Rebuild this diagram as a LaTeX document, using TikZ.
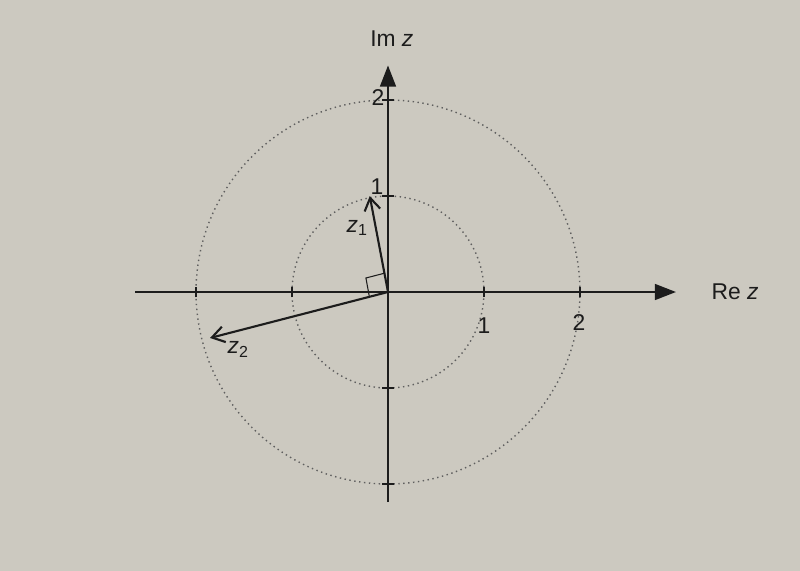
\documentclass[tikz,border=0pt]{standalone}
\usepackage{fontspec}
\setmainfont{Liberation Sans}
\usetikzlibrary{arrows.meta}
\definecolor{paper}{RGB}{204,201,192}
\definecolor{ink}{RGB}{28,28,28}
\definecolor{dotc}{RGB}{95,95,95}
\begin{document}
\begin{tikzpicture}[x=1.92cm,y=1.92cm,
  axis/.style={draw=ink,line width=1.2pt,-{Triangle[length=12pt,width=9pt]}},
  circ/.style={draw=dotc,line width=0.8pt,dotted},
  tick/.style={draw=ink,line width=1pt},
  vec/.style={draw=ink,line width=1.2pt,-{Straight Barb[length=7pt,width=9pt]}},
  lbl/.style={font=\fontsize{13}{15}\selectfont,text=ink,inner sep=0pt}]
\fill[paper] (-4.042,-2.906) rectangle (4.292,3.042);
\useasboundingbox (-4.042,-2.906) rectangle (4.292,3.042);
\coordinate (O) at (0,0);
\coordinate (xs) at (-2.635,0);
\coordinate (xe) at (3.0,0);
\coordinate (ys) at (0,-2.19);
\coordinate (ye) at (0,2.36);
\draw[circ] (O) circle (1);
\draw[circ] (O) circle (2);
\draw[axis] (xs) -- (xe);
\draw[axis] (ys) -- (ye);
\foreach \t in {-2,-1,1,2} {
  \draw[tick] (\t,-0.055) -- (\t,0.055);
  \draw[tick] (-0.06,\t) -- (0.06,\t);
}
\coordinate (z1) at (-0.19,1.0);
\coordinate (z2) at (-1.854,-0.479);
\draw[vec] (O) -- (z1);
\draw[vec] (O) -- (z2);
\draw[ink,line width=0.6pt] (-0.036,0.196) -- (-0.230,0.146) -- (-0.194,-0.050);
\node[lbl] (imz) at (0.04,2.635) {Im \textit{z}};
\node[lbl] (rez) at (3.615,0) {Re \textit{z}};
\node[lbl] (y2) at (-0.104,2.03) {2};
\node[lbl] (y1) at (-0.115,1.10) {1};
\node[lbl] (x1) at (1.0,-0.35) {1};
\node[lbl] (x2) at (1.99,-0.32) {2};
\node[lbl] (lz1) at (-0.32,0.667) {\textit{z}$_{\mathrm{1}}$};
\node[lbl] (lz2) at (-1.56,-0.60) {\textit{z}$_{\mathrm{2}}$};
\end{tikzpicture}
\end{document}
